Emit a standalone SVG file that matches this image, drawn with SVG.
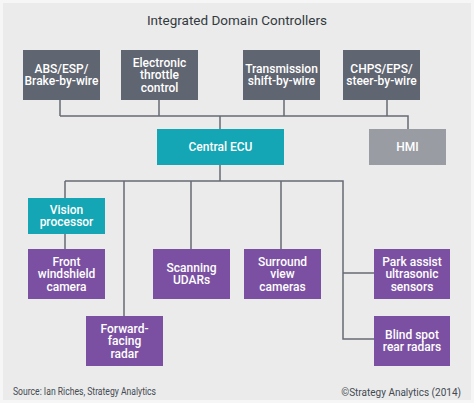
<svg xmlns="http://www.w3.org/2000/svg" width="474" height="403" viewBox="0 0 474 403">
<style>
.t{font-family:Roboto,"Liberation Sans",sans-serif;font-weight:500;font-size:12px;fill:#ffffff;text-anchor:middle}
.dk{fill:#5f6571}
.tl{fill:#14a6b4}
.gy{fill:#9a9ca4}
.pu{fill:#7b50a2}
.ln{fill:none;stroke:#676b74;stroke-width:1.5}
.ft{font-family:Roboto,"Liberation Sans",sans-serif;font-size:10px;fill:#444a52}
</style>
<rect x="0" y="0" width="474" height="403" fill="#f6f6f6"/>
<rect x="3" y="3" width="468" height="397" fill="#ebebeb"/>
<text x="237" y="25" font-family="Roboto,'Liberation Sans',sans-serif" font-size="13.5" fill="#333a40" text-anchor="middle">Integrated Domain Controllers</text>
<g id="connectors">
<path class="ln" d="M60 100V116M159 100V116M284 100V116M387 100V116M60 116H408V129M220 116V129"/>
<path class="ln" d="M220 165V181M65 181H343V339H374M65 181V198M124 181V316M191 181V249M281 181V249M343 273H374M65 234V249"/>
</g>
<g id="abs"><rect class="dk" x="23" y="50" width="77" height="50"/><text class="t"><tspan x="61.5" y="73">ABS/ESP/</tspan><tspan x="61.5" y="85.4">Brake-by-wire</tspan></text></g>
<g id="etc"><rect class="dk" x="121" y="50" width="77" height="50"/><text class="t"><tspan x="159.5" y="66.8">Electronic</tspan><tspan x="159.5" y="79.2">throttle</tspan><tspan x="159.5" y="91.6">control</tspan></text></g>
<g id="trans"><rect class="dk" x="243" y="50" width="77" height="50"/><text class="t"><tspan x="281.5" y="73">Transmission</tspan><tspan x="281.5" y="85.4">shift-by-wire</tspan></text></g>
<g id="chps"><rect class="dk" x="343" y="50" width="77" height="50"/><text class="t"><tspan x="381.5" y="73">CHPS/EPS/</tspan><tspan x="381.5" y="85.4">steer-by-wire</tspan></text></g>
<g id="ecu"><rect class="tl" x="157" y="129" width="127" height="36"/><text class="t" x="220.5" y="151.2">Central ECU</text></g>
<g id="hmi"><rect class="gy" x="369" y="129" width="77" height="36"/><text class="t" x="407.5" y="151.2">HMI</text></g>
<g id="vision"><rect class="tl" x="28" y="198" width="77" height="36"/><text class="t"><tspan x="66.5" y="214">Vision</tspan><tspan x="66.5" y="226.4">processor</tspan></text></g>
<g id="front"><rect class="pu" x="28" y="249" width="77" height="50"/><text class="t"><tspan x="66.5" y="265.8">Front</tspan><tspan x="66.5" y="278.2">windshield</tspan><tspan x="66.5" y="290.6">camera</tspan></text></g>
<g id="scan"><rect class="pu" x="153" y="249" width="77" height="50"/><text class="t"><tspan x="191.5" y="272">Scanning</tspan><tspan x="191.5" y="284.4">UDARs</tspan></text></g>
<g id="surround"><rect class="pu" x="244" y="249" width="77" height="50"/><text class="t"><tspan x="282.5" y="265.8">Surround</tspan><tspan x="282.5" y="278.2">view</tspan><tspan x="282.5" y="290.6">cameras</tspan></text></g>
<g id="park"><rect class="pu" x="374" y="249" width="76" height="50"/><text class="t"><tspan x="412" y="265.8">Park assist</tspan><tspan x="412" y="278.2">ultrasonic</tspan><tspan x="412" y="290.6">sensors</tspan></text></g>
<g id="forward"><rect class="pu" x="86" y="316" width="77" height="50"/><text class="t"><tspan x="124.5" y="332.8">Forward-</tspan><tspan x="124.5" y="345.2">facing</tspan><tspan x="124.5" y="357.6">radar</tspan></text></g>
<g id="blind"><rect class="pu" x="374" y="316" width="76" height="50"/><text class="t"><tspan x="412" y="339">Blind spot</tspan><tspan x="412" y="351.4">rear radars</tspan></text></g>
<text class="ft" x="13" y="395" textLength="143" lengthAdjust="spacingAndGlyphs">Source: Ian Riches, Strategy Analytics</text>
<text class="ft" x="461" y="396" text-anchor="end">©Strategy Analytics (2014)</text>
</svg>
